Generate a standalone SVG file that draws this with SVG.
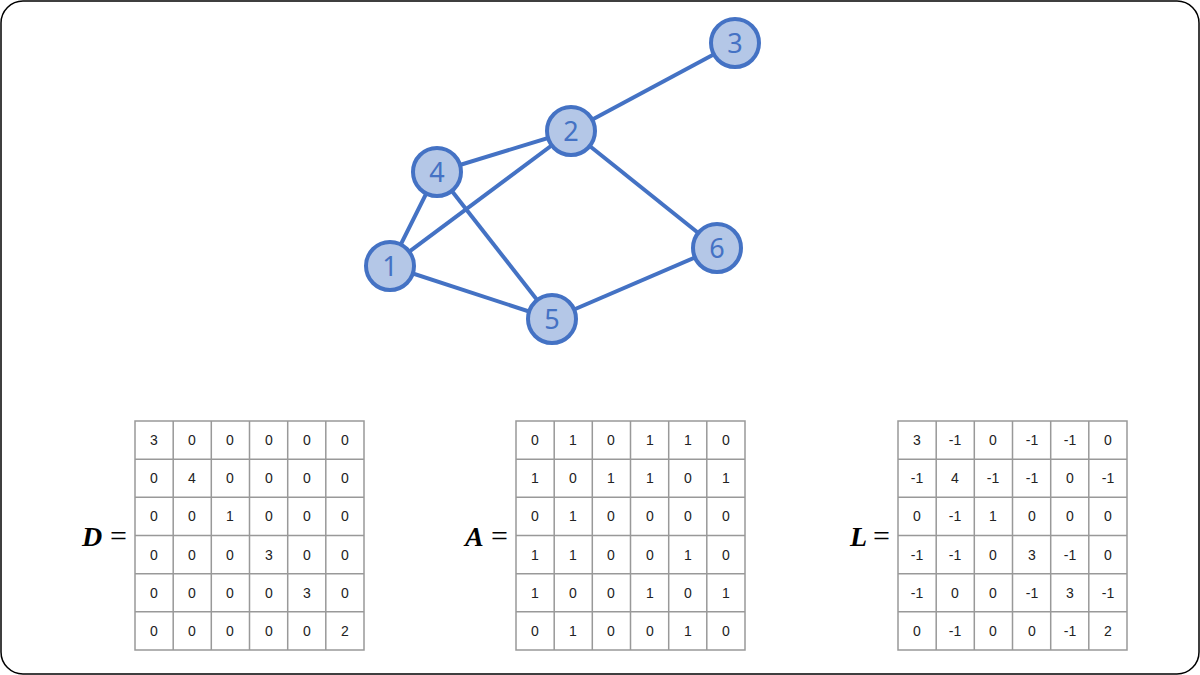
<svg xmlns="http://www.w3.org/2000/svg" width="1200" height="675" viewBox="0 0 1200 675">
<style>
.e{stroke:#4472C4;stroke-width:4;fill:none}
.n circle{fill:#B4C7E7;stroke:#4472C4;stroke-width:4}
.n text{font-family:"Noto Sans","Liberation Sans",sans-serif;font-size:27px;fill:#4472C4;text-anchor:middle}
.g{fill:none;stroke:#999;stroke-width:1.5}
.c{font-family:"Liberation Sans",Arial,sans-serif;font-size:14px;text-anchor:middle;fill:#222}
.lab{font-family:"Liberation Serif","Times New Roman",serif;font-size:28px;font-weight:bold;font-style:italic;fill:#000}
.eq{font-family:"Liberation Serif",serif;font-size:30px;fill:#000}
</style>
<defs>
<g id="grid">
<rect x="0" y="0" width="229" height="229" class="g"/>
<path class="g" d="M38.2 0V229M76.3 0V229M114.5 0V229M152.7 0V229M190.8 0V229M0 38.2H229M0 76.3H229M0 114.5H229M0 152.7H229M0 190.8H229"/>
</g>
</defs>
<rect x="1" y="1" width="1198" height="673" rx="22" fill="#fff" stroke="#000" stroke-width="1.5"/>
<g id="connectors">
<line class="e" x1="571" y1="131" x2="735" y2="43"/>
<line class="e" x1="437" y1="172" x2="571" y2="131"/>
<line class="e" x1="390" y1="266" x2="571" y2="131"/>
<line class="e" x1="571" y1="131" x2="717" y2="248"/>
<line class="e" x1="390" y1="266" x2="437" y2="172"/>
<line class="e" x1="437" y1="172" x2="552" y2="319"/>
<line class="e" x1="390" y1="266" x2="552" y2="319"/>
<line class="e" x1="552" y1="319" x2="717" y2="248"/>
</g>
<g id="node1" class="n"><circle cx="390" cy="266" r="24"/><text x="390" y="276">1</text></g>
<g id="node2" class="n"><circle cx="571" cy="131" r="24"/><text x="571" y="141">2</text></g>
<g id="node3" class="n"><circle cx="735" cy="43" r="24"/><text x="735" y="53">3</text></g>
<g id="node4" class="n"><circle cx="437" cy="172" r="24"/><text x="437" y="182">4</text></g>
<g id="node5" class="n"><circle cx="552" cy="319" r="24"/><text x="552" y="329">5</text></g>
<g id="node6" class="n"><circle cx="717" cy="248" r="24"/><text x="717" y="258">6</text></g>

<g id="matD">
<text class="lab" x="82" y="546">D</text><text class="eq" x="110" y="546">=</text>
<use href="#grid" x="135" y="421"/>
<g class="c" transform="translate(135,421)">
<text x="19" y="24">3</text><text x="57" y="24">0</text><text x="95" y="24">0</text><text x="134" y="24">0</text><text x="172" y="24">0</text><text x="210" y="24">0</text>
<text x="19" y="62">0</text><text x="57" y="62">4</text><text x="95" y="62">0</text><text x="134" y="62">0</text><text x="172" y="62">0</text><text x="210" y="62">0</text>
<text x="19" y="100">0</text><text x="57" y="100">0</text><text x="95" y="100">1</text><text x="134" y="100">0</text><text x="172" y="100">0</text><text x="210" y="100">0</text>
<text x="19" y="139">0</text><text x="57" y="139">0</text><text x="95" y="139">0</text><text x="134" y="139">3</text><text x="172" y="139">0</text><text x="210" y="139">0</text>
<text x="19" y="177">0</text><text x="57" y="177">0</text><text x="95" y="177">0</text><text x="134" y="177">0</text><text x="172" y="177">3</text><text x="210" y="177">0</text>
<text x="19" y="215">0</text><text x="57" y="215">0</text><text x="95" y="215">0</text><text x="134" y="215">0</text><text x="172" y="215">0</text><text x="210" y="215">2</text>
</g>
</g>
<g id="matA">
<text class="lab" x="465" y="546">A</text><text class="eq" x="491" y="546">=</text>
<use href="#grid" x="516" y="421"/>
<g class="c" transform="translate(516,421)">
<text x="19" y="24">0</text><text x="57" y="24">1</text><text x="95" y="24">0</text><text x="134" y="24">1</text><text x="172" y="24">1</text><text x="210" y="24">0</text>
<text x="19" y="62">1</text><text x="57" y="62">0</text><text x="95" y="62">1</text><text x="134" y="62">1</text><text x="172" y="62">0</text><text x="210" y="62">1</text>
<text x="19" y="100">0</text><text x="57" y="100">1</text><text x="95" y="100">0</text><text x="134" y="100">0</text><text x="172" y="100">0</text><text x="210" y="100">0</text>
<text x="19" y="139">1</text><text x="57" y="139">1</text><text x="95" y="139">0</text><text x="134" y="139">0</text><text x="172" y="139">1</text><text x="210" y="139">0</text>
<text x="19" y="177">1</text><text x="57" y="177">0</text><text x="95" y="177">0</text><text x="134" y="177">1</text><text x="172" y="177">0</text><text x="210" y="177">1</text>
<text x="19" y="215">0</text><text x="57" y="215">1</text><text x="95" y="215">0</text><text x="134" y="215">0</text><text x="172" y="215">1</text><text x="210" y="215">0</text>
</g>
</g>
<g id="matL">
<text class="lab" x="850" y="546">L</text><text class="eq" x="873" y="546">=</text>
<use href="#grid" x="898" y="421"/>
<g class="c" transform="translate(898,421)">
<text x="19" y="24">3</text><text x="57" y="24">-1</text><text x="95" y="24">0</text><text x="134" y="24">-1</text><text x="172" y="24">-1</text><text x="210" y="24">0</text>
<text x="19" y="62">-1</text><text x="57" y="62">4</text><text x="95" y="62">-1</text><text x="134" y="62">-1</text><text x="172" y="62">0</text><text x="210" y="62">-1</text>
<text x="19" y="100">0</text><text x="57" y="100">-1</text><text x="95" y="100">1</text><text x="134" y="100">0</text><text x="172" y="100">0</text><text x="210" y="100">0</text>
<text x="19" y="139">-1</text><text x="57" y="139">-1</text><text x="95" y="139">0</text><text x="134" y="139">3</text><text x="172" y="139">-1</text><text x="210" y="139">0</text>
<text x="19" y="177">-1</text><text x="57" y="177">0</text><text x="95" y="177">0</text><text x="134" y="177">-1</text><text x="172" y="177">3</text><text x="210" y="177">-1</text>
<text x="19" y="215">0</text><text x="57" y="215">-1</text><text x="95" y="215">0</text><text x="134" y="215">0</text><text x="172" y="215">-1</text><text x="210" y="215">2</text>
</g>
</g>
</svg>
